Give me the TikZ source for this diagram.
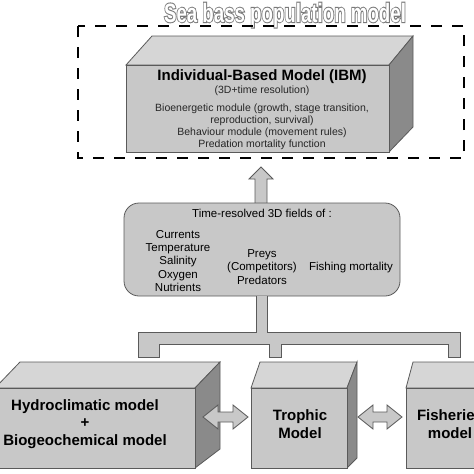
\documentclass[tikz,border=0pt]{standalone}
\usepackage{fontspec}
\setmainfont{Liberation Sans}
\newfontfamily\titleoutline[FakeBold=8]{Liberation Sans Bold}
\usetikzlibrary{calc}
\definecolor{facefront}{HTML}{C8C8C8}
\definecolor{facetop}{HTML}{D6D6D6}
\definecolor{faceside}{HTML}{8A8A8A}
\definecolor{edge}{HTML}{5A5A5A}
\definecolor{titlegray}{HTML}{7A7A7A}
\tikzset{
  front/.style={fill=facefront, draw=edge, line width=0.8pt},
  topface/.style={fill=facetop, draw=edge, line width=0.8pt},
  sideface/.style={fill=faceside, draw=edge, line width=0.8pt},
  blockarrow/.style={fill=facefront, draw=edge, line width=0.8pt, line join=miter},
  ibmtxt/.style={font=\fontsize{10.5}{12}\selectfont, align=center, text=black!85, inner sep=0pt},
  fieldtxt/.style={font=\fontsize{11.5}{13.3}\selectfont, align=center, inner sep=0pt},
  modeltxt/.style={font=\bfseries\fontsize{15}{17.5}\selectfont, align=center, inner sep=0pt},
  dashbox/.style={draw=black, line width=2.5pt, dash pattern=on 11pt off 10pt},
  titlestyle/.style={xscale=0.705, inner sep=0pt, anchor=base},
}
\newcommand{\titletext}{Sea bass population model}
\begin{document}
\begin{tikzpicture}[x=1pt,y=-1pt]
\useasboundingbox (0,0) rectangle (474,474);
\clip (0,0) rectangle (474,474);

% Title (outlined)
\coordinate (tc) at (285,22);
\node (titleback) [titlestyle, font=\titleoutline\fontsize{26.5}{28}\selectfont, text=titlegray] at (tc) {\titletext};
\node (title) [titlestyle, font=\bfseries\fontsize{26.5}{28}\selectfont, text=white] at (tc) {\titletext};

% Dashed population-model frame
\draw[dashbox] (78,26) rectangle (464,158);

% IBM box
\path[topface] (126,65) -- (152,36) -- (413,36) -- (389,65) -- cycle;
\path[sideface] (389,65) -- (413,36) -- (413,127) -- (389,152) -- cycle;
\path[front] (126,65) rectangle (389,152);
\node (ibm) [ibmtxt, font=\bfseries\fontsize{15}{17}\selectfont, text=black] at (262,77) {Individual-Based Model (IBM)};
\node (res) [ibmtxt] at (262,91) {(3D+time resolution)};
\node (mods) [ibmtxt] at (262,126.5) {Bioenergetic module (growth, stage transition,\\ reproduction, survival)\\ Behaviour module (movement rules)\\ Predation mortality function};

% Upward block arrow
\path[blockarrow] (255,203) -- (255,179) -- (249,179) -- (261,167) -- (273,179) -- (267,179) -- (267,203);

% Fields box
\draw[front, rounded corners=15pt] (124,203) rectangle (400,296);
\node (fields) [fieldtxt] at (262,213) {Time-resolved 3D fields of :};
\node (phys) [fieldtxt] at (178,261) {Currents\\Temperature\\Salinity\\Oxygen\\Nutrients};
\node (troph) [fieldtxt] at (262,267) {Preys\\(Competitors)\\Predators};
\node (fish) [fieldtxt] at (351,268) {Fishing mortality};

% Bracket
\path[blockarrow] (256,296) -- (256,332) -- (138,332) -- (138,357) -- (159,357) -- (159,344)
  -- (269,344) -- (269,357) -- (281,357) -- (281,344) -- (448,344) -- (448,357) -- (460,357)
  -- (460,332) -- (267,332) -- (267,296);

% Hydroclimatic box
\path[topface] (-5,388) -- (20,362) -- (220,362) -- (195,388) -- cycle;
\path[sideface] (195,388) -- (220,362) -- (220,449) -- (195,468) -- cycle;
\path[front] (-5,388) rectangle (195,468);
\node (hydro) [modeltxt] at (85,424) {Hydroclimatic model\\+\\Biogeochemical model};

% Trophic box
\path[topface] (251,388) -- (260,362) -- (357,362) -- (347,388) -- cycle;
\path[sideface] (347,388) -- (357,362) -- (357,458) -- (347,468) -- cycle;
\path[front] (251,388) rectangle (347,468);
\node (trophic) [modeltxt] at (300,424) {Trophic\\Model};

% Fisheries box
\path[topface] (406,388) -- (413,362) -- (480,362) -- (480,388) -- cycle;
\path[front] (406,388) rectangle (480,468);
\node (fisheries) [modeltxt] at (450,424) {Fisheries\\model};

% Double block arrows
\path[blockarrow] (203,417) -- (218,405) -- (218,412) -- (233,412) -- (233,405) -- (248,417)
  -- (233,429) -- (233,422) -- (218,422) -- (218,429) -- cycle;
\path[blockarrow] (358,417) -- (373,405) -- (373,412) -- (387,412) -- (387,405) -- (402,417)
  -- (387,429) -- (387,422) -- (373,422) -- (373,429) -- cycle;
\end{tikzpicture}
\end{document}
